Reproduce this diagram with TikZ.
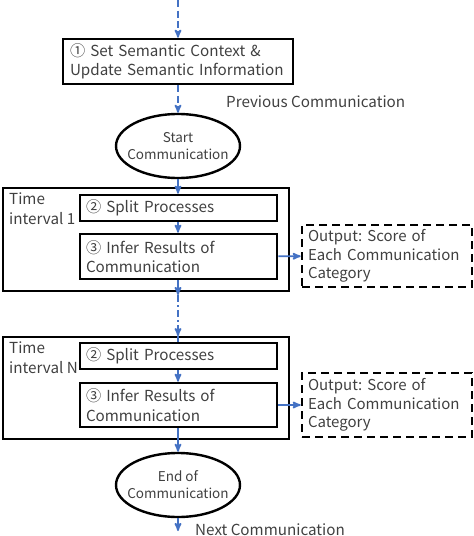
\documentclass[tikz,border=0pt]{standalone}
\usepackage{fontspec}
\setmainfont{Noto Sans CJK JP}
\usetikzlibrary{arrows}
\usetikzlibrary{shapes.geometric}
\definecolor{flowblue}{RGB}{68,114,196}
\definecolor{inkgray}{RGB}{64,64,64}
\frenchspacing
\tikzset{stepbox/.style={draw, line width=2.6pt, minimum width=197, text width=185, inner xsep=6pt, inner ysep=0pt, align=left}}
\tikzset{outerbox/.style={draw, line width=1.8pt, minimum width=286}}
\tikzset{outbox/.style={draw, line width=2.6pt, dash pattern=on 8pt off 5pt, minimum width=170, minimum height=62, text width=158, inner xsep=6pt, inner ysep=0pt, align=left, font=\fontsize{15}{18.5}\selectfont}}
\tikzset{endnode/.style={draw, ellipse, line width=2.4pt, minimum width=124, minimum height=64, inner xsep=-9pt, inner ysep=0pt, align=center, font=\fontsize{13.5}{17}\selectfont}}
\tikzset{flow/.style={flowblue, line width=1.7pt, ->, >=stealth'}}

\begin{document}
\begin{tikzpicture}[x=1pt, y=-1pt, font=\fontsize{15.2}{19.5}\selectfont, text=inkgray]
\useasboundingbox (0,0) rectangle (474,536);
\coordinate (top) at (178,0);
\node[stepbox, minimum width=230, text width=216, minimum height=45] (setctx) at (178,61.5) {① Set Semantic Context \&\\Update Semantic Information};
\node[anchor=base west, inner sep=0pt] (prevc) at (226,107) {Previous Communication};
\node[endnode] (startc) at (178,146) {Start\\Communication};
% time interval 1
\node[outerbox, minimum height=103] (int1) at (146,239.5) {};
\node[anchor=north west, inner sep=0pt, align=left] (lab1) at (9,193) {Time\\interval 1};
\node[stepbox, minimum height=26] (split1) at (178.5,208) {② Split Processes};
\node[stepbox, minimum height=45] (infer1) at (178.5,256.5) {③ Infer Results of\\Communication};
\node[outbox] (out1) at (387,256) {Output: Score of\\Each Communication\\Category};
\coordinate (gap1) at (178,295);
% time interval N
\node[outerbox, minimum height=102] (intN) at (146,388) {};
\node[anchor=north west, inner sep=0pt, align=left] (labN) at (9,342) {Time\\interval N};
\node[stepbox, minimum height=26] (splitN) at (178.5,356) {② Split Processes};
\node[stepbox, minimum height=44] (inferN) at (178.5,405) {③ Infer Results of\\Communication};
\node[outbox, minimum height=64] (outN) at (387,405) {Output: Score of\\Each Communication\\Category};
\node[endnode] (endc) at (178,485) {End of\\Communication};
\coordinate (bot) at (178,531);
\node[anchor=base west, inner sep=0pt] (nextc) at (195,535) {Next Communication};
% connectors
\draw[flow, dash pattern=on 7pt off 3.5pt] (top) -- (setctx);
\draw[flow, dash pattern=on 7pt off 3.5pt] (setctx) -- (startc);
\draw[flow] (startc) -- (split1.north -| startc);
\draw[flow] (split1.south -| startc) -- (infer1.north -| startc);
\draw[flow] (infer1) -- (out1);
\draw[flow] (infer1.south -| startc) -- (gap1);
\draw[flow, dash pattern=on 7pt off 3pt on 2pt off 3pt] (gap1) -- (intN.north -| startc);
\draw[flowblue, line width=1.7pt] (intN.north -| startc) -- (splitN.north -| startc);
\draw[flow] (splitN.south -| startc) -- (inferN.north -| startc);
\draw[flow] (inferN) -- (outN);
\draw[flow] (inferN.south -| startc) -- (endc);
\draw[flow] (endc) -- (bot);
\end{tikzpicture}
\end{document}
